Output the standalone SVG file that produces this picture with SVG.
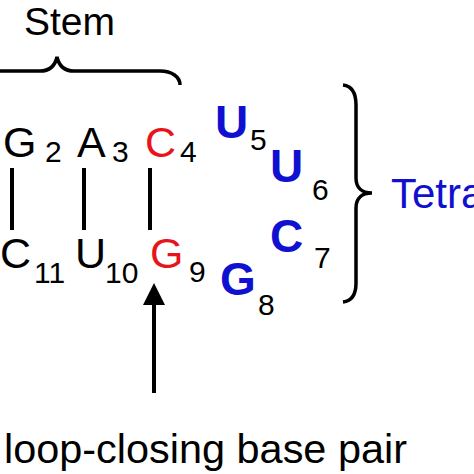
<svg xmlns="http://www.w3.org/2000/svg" width="474" height="474" viewBox="0 0 474 474">
<style>
text{font-family:"Liberation Sans",Arial,sans-serif;fill:#000}
.b{font-size:43px}
.s{font-size:30px}
.red{fill:#e8141b}
.blue{fill:#1010d0;font-weight:bold;font-size:46px}
.line{stroke:#000;stroke-width:4;fill:none;stroke-linecap:butt}
.brace{stroke:#000;stroke-width:3.5;fill:none}
</style>
<rect width="474" height="474" fill="#fff"/>
<g id="stem-label"><text x="24" y="35" font-size="39">Stem</text></g>
<g id="stem-brace"><path class="brace" d="M-5,71 L40,71 C50,71 55,66 57,57 C59,66 64,71 74,71 L160,71 C172,71 180,77 180,85"/></g>
<g id="G2"><text class="b" x="3" y="157">G</text><text class="s" x="45" y="162">2</text></g>
<g id="A3"><text class="b" x="77" y="157">A</text><text class="s" x="112" y="162">3</text></g>
<g id="C4"><text class="b red" x="145" y="157">C</text><text class="s" x="180" y="162">4</text></g>
<g id="C11"><text class="b" x="0" y="268">C</text><text class="s" x="34" y="283">11</text></g>
<g id="U10"><text class="b" x="75" y="268">U</text><text class="s" x="105" y="283">10</text></g>
<g id="G9"><text class="b red" x="150" y="268">G</text><text class="s" x="189" y="282">9</text></g>
<g id="U5"><text class="blue" x="215" y="138">U</text><text class="s" x="250" y="150">5</text></g>
<g id="U6"><text class="blue" x="270" y="182">U</text><text class="s" x="312" y="200">6</text></g>
<g id="C7"><text class="blue" x="270" y="252">C</text><text class="s" x="314" y="268">7</text></g>
<g id="G8"><text class="blue" x="220" y="295">G</text><text class="s" x="258" y="315">8</text></g>
<g id="loop-brace"><path class="brace" d="M343,85 C352,86 356,93 356,105 L356,178 C356,188 362,193 372,193 C362,193 356,198 356,208 L356,283 C356,295 352,301 343,302"/></g>
<g id="tetra-label"><text x="391" y="208" font-size="42" style="fill:#1010d0">Tetra</text></g>
<g id="connectors">
<line class="line" x1="12" y1="168" x2="12" y2="230"/>
<line class="line" x1="84" y1="168" x2="84" y2="230"/>
<line class="line" x1="150" y1="168" x2="150" y2="230"/>
<line class="line" x1="154" y1="393" x2="154" y2="303"/>
<path d="M154,283 L143,305 L165,305 z" fill="#000"/>
</g>
<g id="closing-label"><text x="4" y="463" font-size="41" textLength="403" lengthAdjust="spacingAndGlyphs">loop-closing base pair</text></g>
</svg>
